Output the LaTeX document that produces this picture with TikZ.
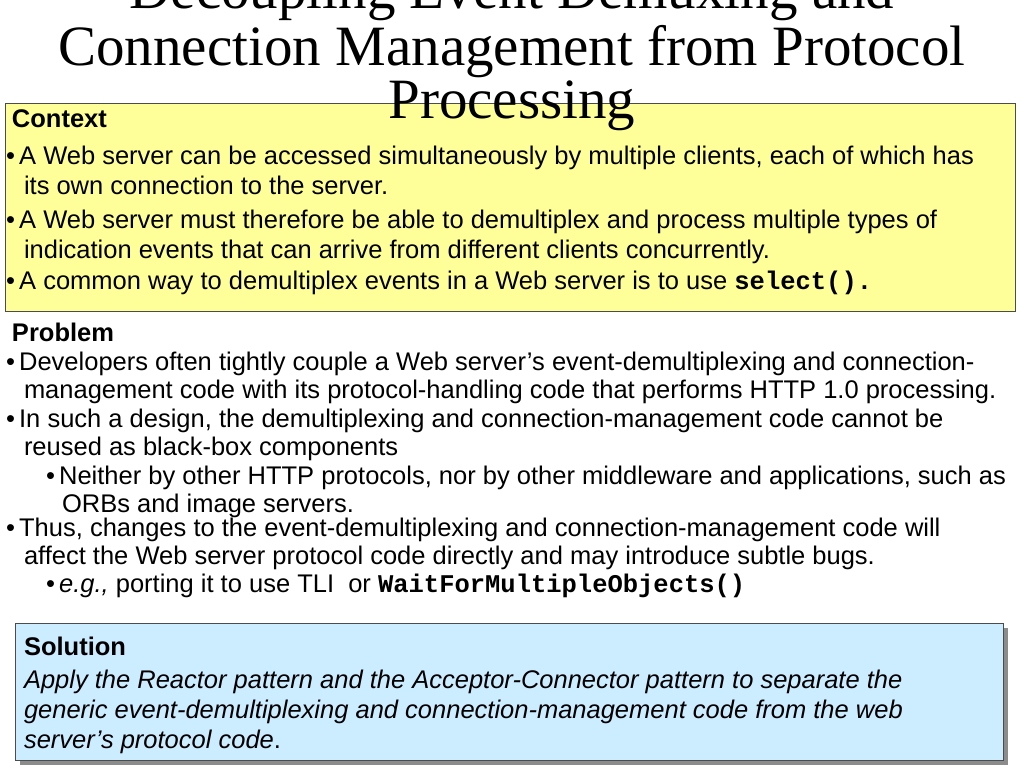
\documentclass[tikz,border=0pt]{standalone}
\usepackage{fontspec}
\setmainfont{Liberation Sans}
\newfontfamily\titlefont{Liberation Serif}
\newfontfamily\codefont{Liberation Mono}
\usetikzlibrary{positioning}

\definecolor{ctxyellow}{RGB}{255,255,153}
\definecolor{solblue}{RGB}{204,236,255}

\begin{document}
\begin{tikzpicture}[
  x=1pt, y=-1pt,
  every node/.style={inner sep=0pt, outer sep=0pt},
  txt/.style={anchor=base west, font=\fontsize{25.5}{30}\selectfont},
  head/.style={txt, font=\fontsize{25.5}{30}\selectfont\bfseries},
  ttl/.style={anchor=base, font=\titlefont\fontsize{57}{62}\selectfont}
]
\useasboundingbox (0,0) rectangle (1024,768);
\fill[white] (0,0) rectangle (1024,768);

% Title
\node[ttl] (t1) at (512,9) {Decoupling Event Demuxing and};
\node[ttl] (t2) at (512,66) {Connection Management from Protocol};

% Context box
\draw[fill=ctxyellow, draw=black!70] (5,103) rectangle (1015,311);
\node[ttl] (t3) at (512,118) {Processing};
\node[head] (ctx) at (12,127) {Context};
\node[txt] (c1) at (6,164) {\textbullet\,A Web server can be accessed simultaneously by multiple clients, each of which has};
\node[txt] (c1b) at (24,194) {its own connection to the server.};
\node[txt] (c2) at (6,228) {\textbullet\,A Web server must therefore be able to demultiplex and process multiple types of};
\node[txt] (c2b) at (24,258) {indication events that can arrive from different clients concurrently.};
\node[txt] (c3) at (6,289) {\textbullet\,A common way to demultiplex events in a Web server is to use {\codefont\bfseries select().}};

% Problem
\node[head] (prob) at (12,341) {Problem};
\node[txt] (p1) at (6,370) {\textbullet\,Developers often tightly couple a Web server’s event-demultiplexing and connection-};
\node[txt] (p1b) at (24,398) {management code with its protocol-handling code that performs HTTP 1.0 processing.};
\node[txt] (p2) at (6,427) {\textbullet\,In such a design, the demultiplexing and connection-management code cannot be};
\node[txt] (p2b) at (24,455) {reused as black-box components};
\node[txt] (p3) at (46,484) {\textbullet\,Neither by other HTTP protocols, nor by other middleware and applications, such as};
\node[txt] (p3b) at (62,512) {ORBs and image servers.};
\node[txt] (p4) at (6,536) {\textbullet\,Thus, changes to the event-demultiplexing and connection-management code will};
\node[txt] (p4b) at (24,564) {affect the Web server protocol code directly and may introduce subtle bugs.};
\node[txt] (p5) at (46,592) {\textbullet\,\textit{e.g.,} porting it to use TLI~ or {\codefont\bfseries WaitForMultipleObjects()}};

% Solution box
\fill[black!45] (20,628) rectangle (1008,765);
\draw[fill=solblue, draw=black!70] (15,623) rectangle (1003,760);
\node[head] (sol) at (24,655) {Solution};
\node[txt, font=\fontsize{25.5}{30}\selectfont\itshape] (s1) at (24,688) {Apply the Reactor pattern and the Acceptor-Connector pattern to separate the};
\node[txt, font=\fontsize{25.5}{30}\selectfont\itshape] (s2) at (24,718) {generic event-demultiplexing and connection-management code from the web};
\node[txt, font=\fontsize{25.5}{30}\selectfont\itshape] (s3) at (24,748) {server’s protocol code\upshape.};
\end{tikzpicture}
\end{document}
